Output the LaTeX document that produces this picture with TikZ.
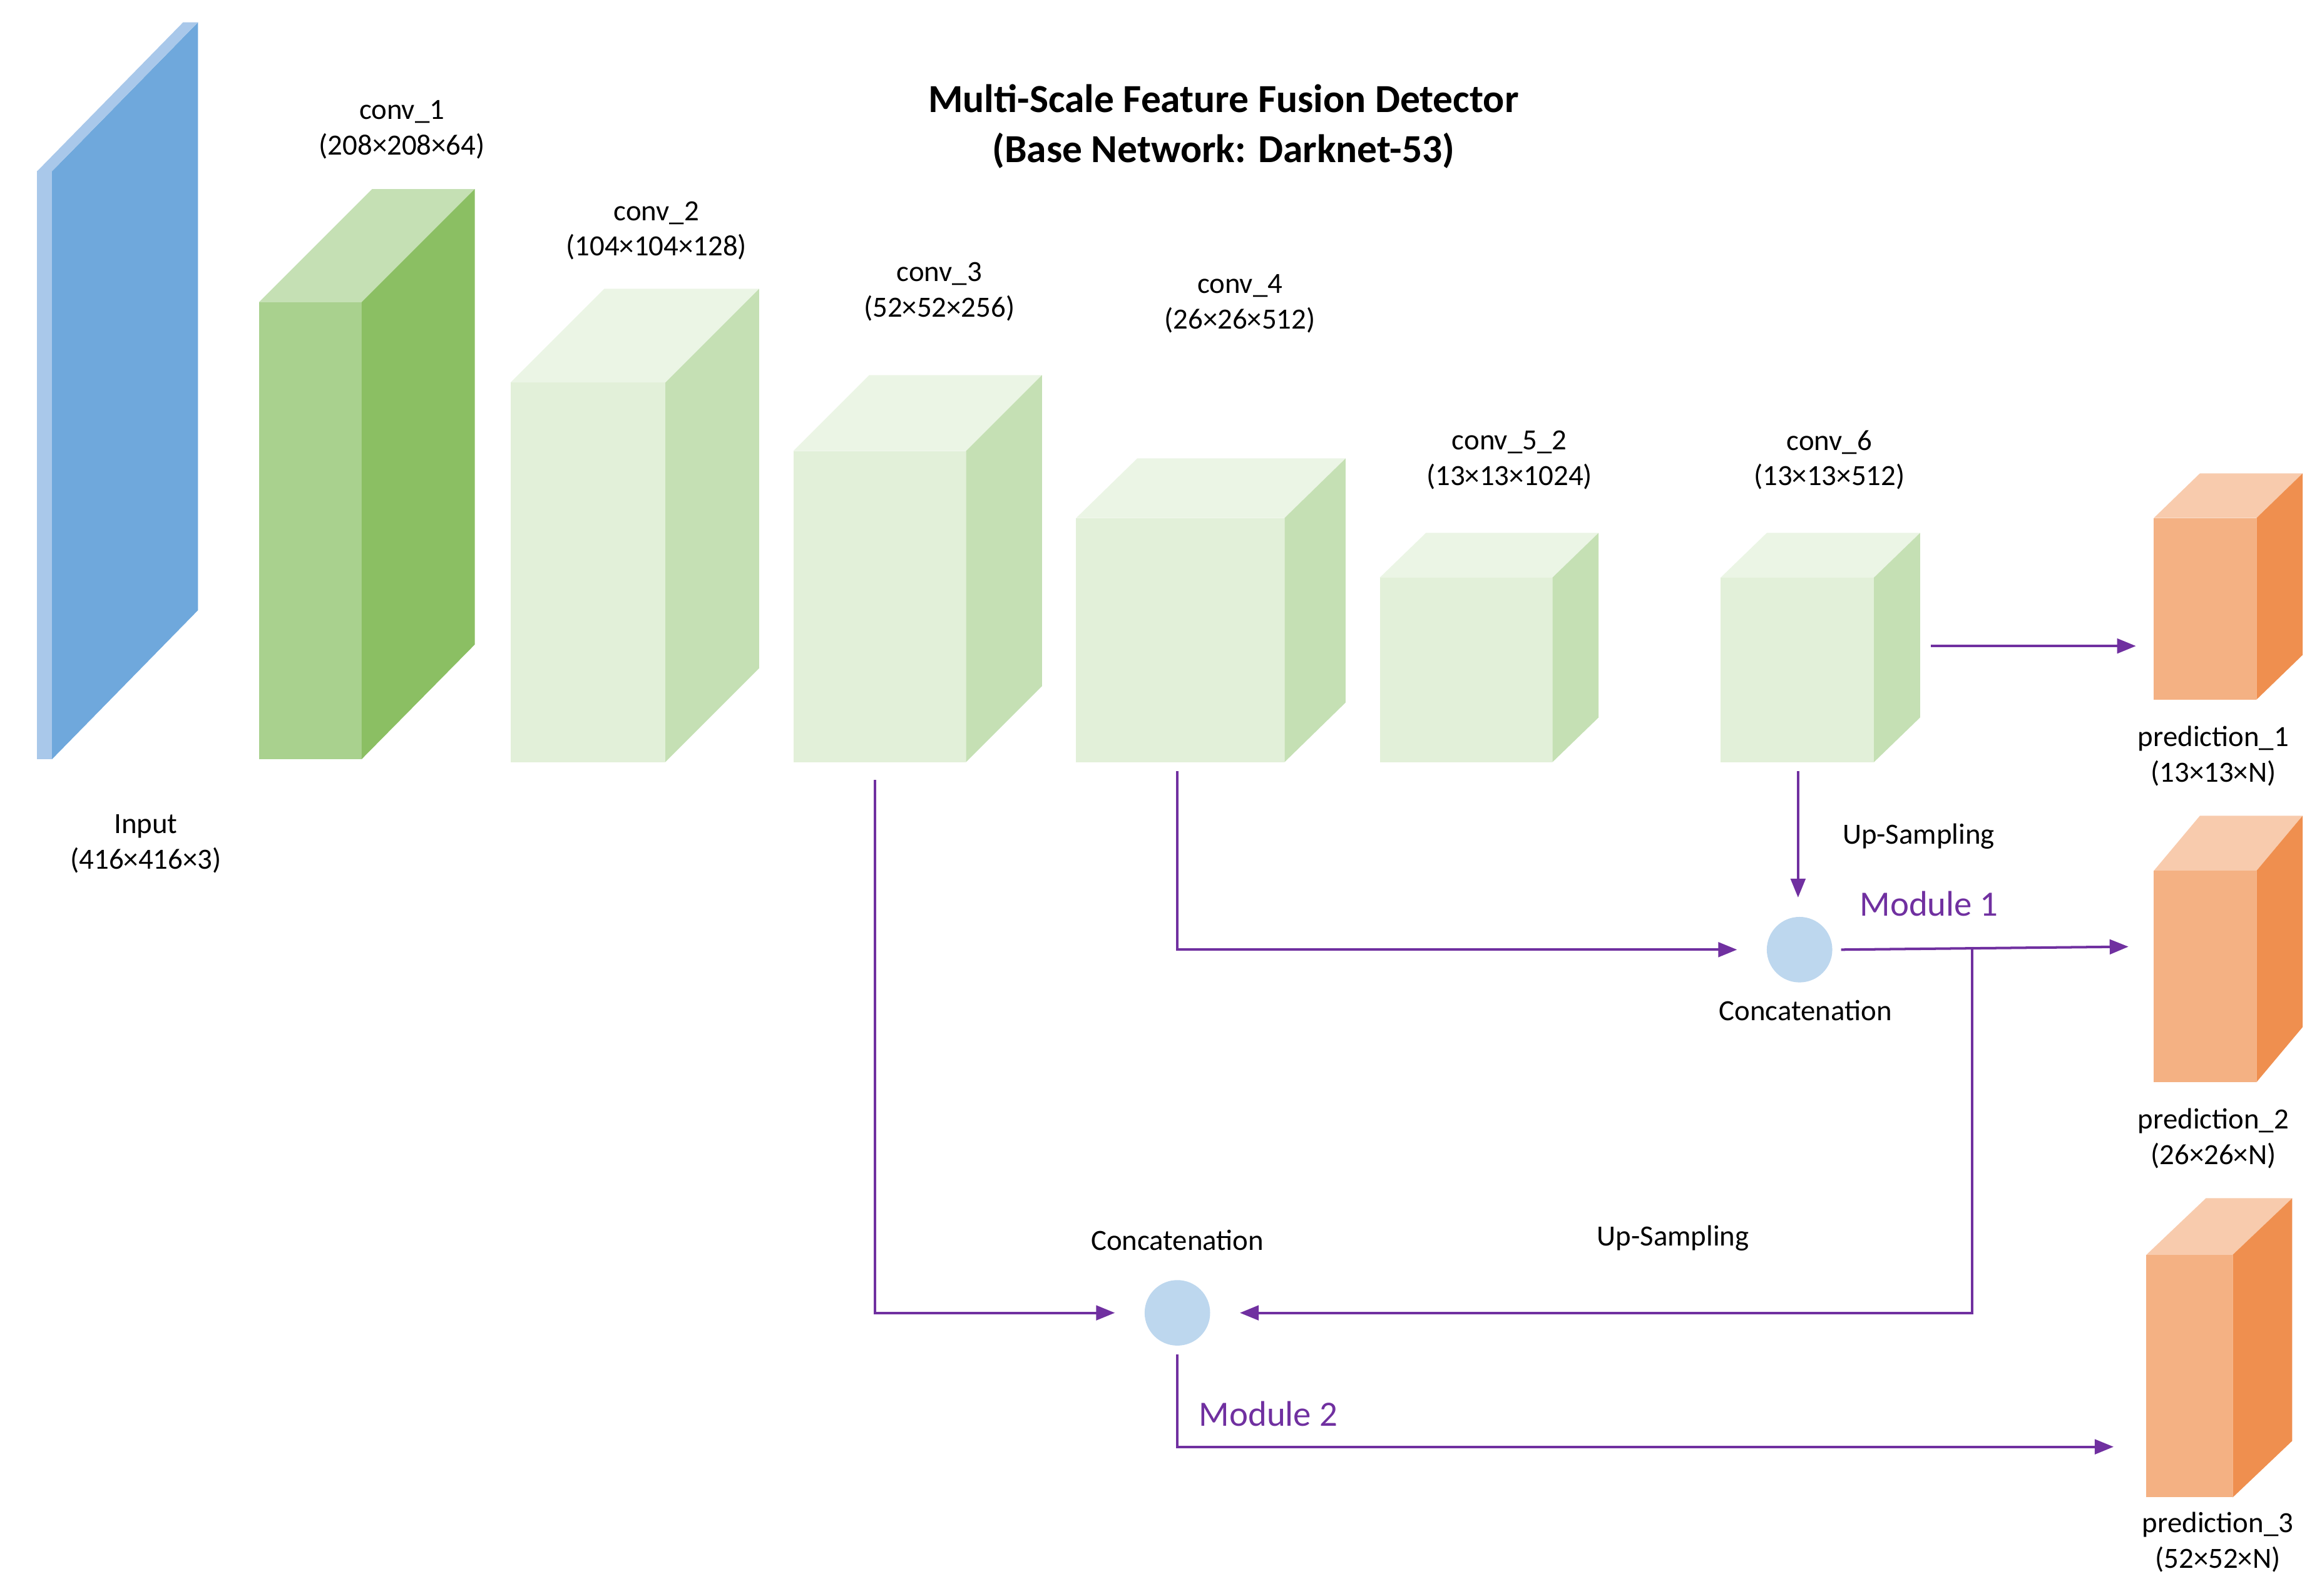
\documentclass[tikz,border=0pt]{standalone}
\usepackage{fontspec}
\setmainfont{Carlito}
\usepackage{tikz}
\usetikzlibrary{arrows.meta}

\definecolor{inblue}{HTML}{6FA8DC}
\definecolor{inlight}{HTML}{A9C8EA}
\definecolor{gfront}{HTML}{A9D18E}
\definecolor{gside}{HTML}{8BBF63}
\definecolor{gtop}{HTML}{C5E0B4}
\definecolor{lfront}{HTML}{E2F0D9}
\definecolor{lside}{HTML}{C5E0B4}
\definecolor{ltop}{HTML}{EBF5E5}
\definecolor{ofront}{HTML}{F4B183}
\definecolor{oside}{HTML}{EF8F4F}
\definecolor{otop}{HTML}{F8CBAD}
\definecolor{flow}{HTML}{7030A0}
\definecolor{concat}{HTML}{BDD7EE}

% cube: name, x, y(bottom), width, height, depth dx, depth dy, front, side, top
\newcommand{\block}[9]{%
  \fill[#9] (#2,#3-#5) -- ++(#4,0) -- ++(#6,-#7) -- ++(-#4,0) -- cycle;
  \fill[#8] (#2,#3) rectangle ++(#4,-#5);
  \fill[#7!0!white,#9!0!#8] (#2+#4,#3) -- ++(#6,-#7) -- ++(0,-#5) -- ++(-#6,#7) -- cycle;
  \coordinate (#1) at (#2+#4/2,#3);
}

\begin{document}
\begin{tikzpicture}[x=0.025cm,y=-0.025cm,
    txt/.style={font=\fontsize{14}{17}\selectfont, align=center},
    flowline/.style={draw=flow, line width=1.2pt},
    flowarrow/.style={flowline, -{Triangle[length=9pt,width=7pt]}},
    junction/.style={circle, fill=concat, minimum size=1.1cm, inner sep=0pt}]
    \useasboundingbox (0,0) rectangle (1560,1072);

    % title
    \node [txt, font=\fontsize{19}{24}\selectfont\bfseries] (title) at (822,85) {Multi-Scale Feature Fusion Detector\\(Base Network: Darknet-53)};

    % input slab
    \fill[inblue] (35,115) -- (133,15) -- (133,410) -- (35,510) -- cycle;
    \fill[inlight] (25,115) -- (35,115) -- (35,510) -- (25,510) -- cycle;
    \fill[inlight] (25,115) -- (123,15) -- (133,15) -- (35,115) -- cycle;
    \node [txt] (in) at (98,567) {Input\\(416×416×3)};

    % conv_1
    \fill[gtop] (174,203) -- (243,203) -- (319,127) -- (250,127) -- cycle;
    \fill[gfront] (174,203) rectangle (243,510);
    \fill[gside] (243,203) -- (319,127) -- (319,433) -- (243,510) -- cycle;
    \node [txt] (c1) at (270,87) {conv\_1\\(208×208×64)};

    % conv_2
    \fill[ltop] (343,257) -- (447,257) -- (510,194) -- (406,194) -- cycle;
    \fill[lfront] (343,257) rectangle (447,512);
    \fill[lside] (447,257) -- (510,194) -- (510,449) -- (447,512) -- cycle;
    \node [txt] (c2) at (441,155) {conv\_2\\(104×104×128)};

    % conv_3
    \fill[ltop] (533,303) -- (649,303) -- (700,252) -- (584,252) -- cycle;
    \fill[lfront] (533,303) rectangle (649,512);
    \fill[lside] (649,303) -- (700,252) -- (700,461) -- (649,512) -- cycle;
    \coordinate (c3b) at (588,524);
    \node [txt] (c3) at (631,196) {conv\_3\\(52×52×256)};

    % conv_4
    \fill[ltop] (723,348) -- (863,348) -- (904,308) -- (764,308) -- cycle;
    \fill[lfront] (723,348) rectangle (863,512);
    \fill[lside] (863,348) -- (904,308) -- (904,472) -- (863,512) -- cycle;
    \coordinate (c4b) at (791,518);
    \node [txt] (c4) at (833,204) {conv\_4\\(26×26×512)};

    % conv_5_2
    \fill[ltop] (927,388) -- (1043,388) -- (1074,358) -- (958,358) -- cycle;
    \fill[lfront] (927,388) rectangle (1043,512);
    \fill[lside] (1043,388) -- (1074,358) -- (1074,482) -- (1043,512) -- cycle;
    \node [txt] (c5) at (1014,309) {conv\_5\_2\\(13×13×1024)};

    % conv_6
    \fill[ltop] (1156,388) -- (1259,388) -- (1290,358) -- (1187,358) -- cycle;
    \fill[lfront] (1156,388) rectangle (1259,512);
    \fill[lside] (1259,388) -- (1290,358) -- (1290,482) -- (1259,512) -- cycle;
    \coordinate (c6r) at (1297,434);
    \coordinate (c6b) at (1208,518);
    \node [txt] (c6) at (1229,309) {conv\_6\\(13×13×512)};

    % predictions
    \fill[otop] (1447,348) -- (1516,348) -- (1547,318) -- (1478,318) -- cycle;
    \fill[ofront] (1447,348) rectangle (1516,470);
    \fill[oside] (1516,348) -- (1547,318) -- (1547,440) -- (1516,470) -- cycle;
    \coordinate (p1) at (1435,434);
    \node [txt] (p1t) at (1487,508) {prediction\_1\\(13×13×N)};

    \fill[otop] (1447,585) -- (1516,585) -- (1547,548) -- (1478,548) -- cycle;
    \fill[ofront] (1447,585) rectangle (1516,727);
    \fill[oside] (1516,585) -- (1547,548) -- (1547,690) -- (1516,727) -- cycle;
    \coordinate (p2) at (1430,636);
    \node [txt] (p2t) at (1487,765) {prediction\_2\\(26×26×N)};

    \fill[otop] (1442,843) -- (1500,843) -- (1540,805) -- (1482,805) -- cycle;
    \fill[ofront] (1442,843) rectangle (1500,1006);
    \fill[oside] (1500,843) -- (1540,805) -- (1540,968) -- (1500,1006) -- cycle;
    \coordinate (p3) at (1420,972);
    \node [txt] (p3t) at (1490,1036) {prediction\_3\\(52×52×N)};

    % concatenation points
    \node [junction] (m1) at (1209,638) {};
    \node [junction] (m2) at (791,882) {};
    \node [txt] at (1213,679) {Concatenation};
    \node [txt] at (791,833) {Concatenation};
    \node [txt] at (1289,562) {Up-Sampling};
    \node [txt] at (1124,832) {Up-Sampling};
    \node [txt, text=flow, font=\fontsize{17}{20}\selectfont] at (1296,607) {Module 1};
    \node [txt, text=flow, font=\fontsize{17}{20}\selectfont] at (852,950) {Module 2};

    % flows
    \draw [flowarrow] (c6r) -- (p1);
    \draw [flowarrow] (c6b) -- (1208,603);
    \draw [flowarrow] (c4b) |- ([xshift=-14pt]m1.west);
    \draw [flowarrow] ([xshift=4pt]m1.east) -- (p2);
    \coordinate (br) at (1325,636);
    \draw [flowarrow] (br) |- ([xshift=14pt]m2.east);
    \draw [flowarrow] (c3b) |- ([xshift=-14pt]m2.west);
    \draw [flowarrow] ([yshift=-4pt]m2.south) |- (p3);
\end{tikzpicture}
\end{document}
